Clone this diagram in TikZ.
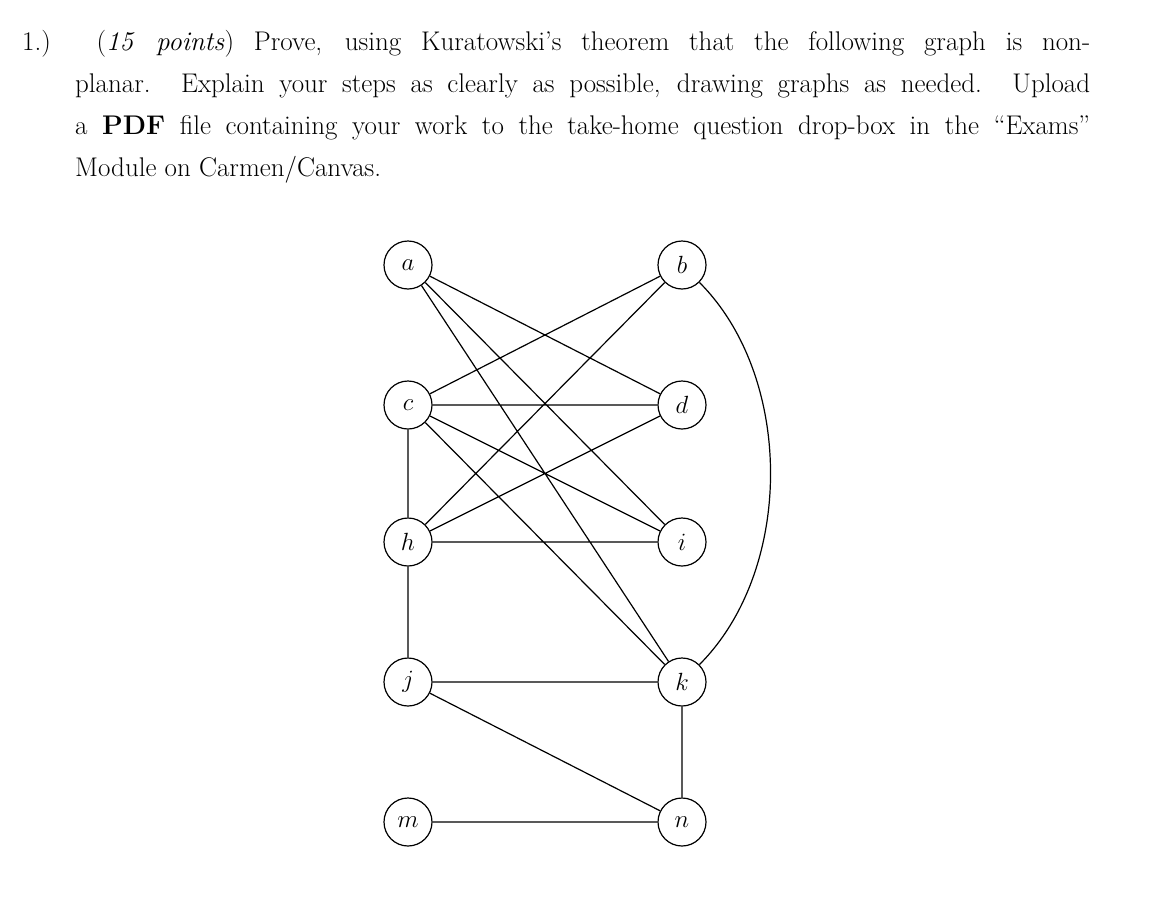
\documentclass[tikz,border=0pt]{standalone}
\begin{document}
\begin{tikzpicture}[x=1pt,y=-1pt,
  vtx/.style={draw,circle,line width=1.2pt,minimum size=48pt,inner sep=0pt,font=\fontsize{27}{30}\selectfont},
  edge/.style={line width=1.2pt}]
\useasboundingbox (0,0) rectangle (1170,897);
\node[anchor=north west,inner sep=0pt,text width=1068pt,align=justify] (txt) at (22,30) {\fontsize{27}{42}\selectfont\hangindent=53pt\hangafter=1
1.) (\textit{15 points}) Prove, using Kuratowski's theorem that the following graph is non-\linebreak planar. Explain your steps as clearly as possible, drawing graphs as needed. Upload\linebreak a \textbf{PDF} file containing your work to the take-home question drop-box in the ``Exams''\linebreak Module on Carmen/Canvas.\par};
\node[vtx] (a) at (408,265) {$a$};
\node[vtx] (b) at (682,265) {$b$};
\node[vtx] (c) at (408,405) {$c$};
\node[vtx] (d) at (682,405) {$d$};
\node[vtx] (h) at (408,542) {$h$};
\node[vtx] (i) at (682,542) {$i$};
\node[vtx] (j) at (408,682) {$j$};
\node[vtx] (k) at (682,682) {$k$};
\node[vtx] (m) at (408,822) {$m$};
\node[vtx] (n) at (682,822) {$n$};
\draw[edge] (a)--(d) (a)--(i) (a)--(k) (c)--(b) (c)--(d) (c)--(i) (c)--(k) (c)--(h)
 (h)--(b) (h)--(d) (h)--(i) (h)--(j) (j)--(k) (j)--(n) (k)--(n) (m)--(n);
\draw[edge] (b) to[out=-45,in=45,looseness=0.9] (k);
\end{tikzpicture}
\end{document}
